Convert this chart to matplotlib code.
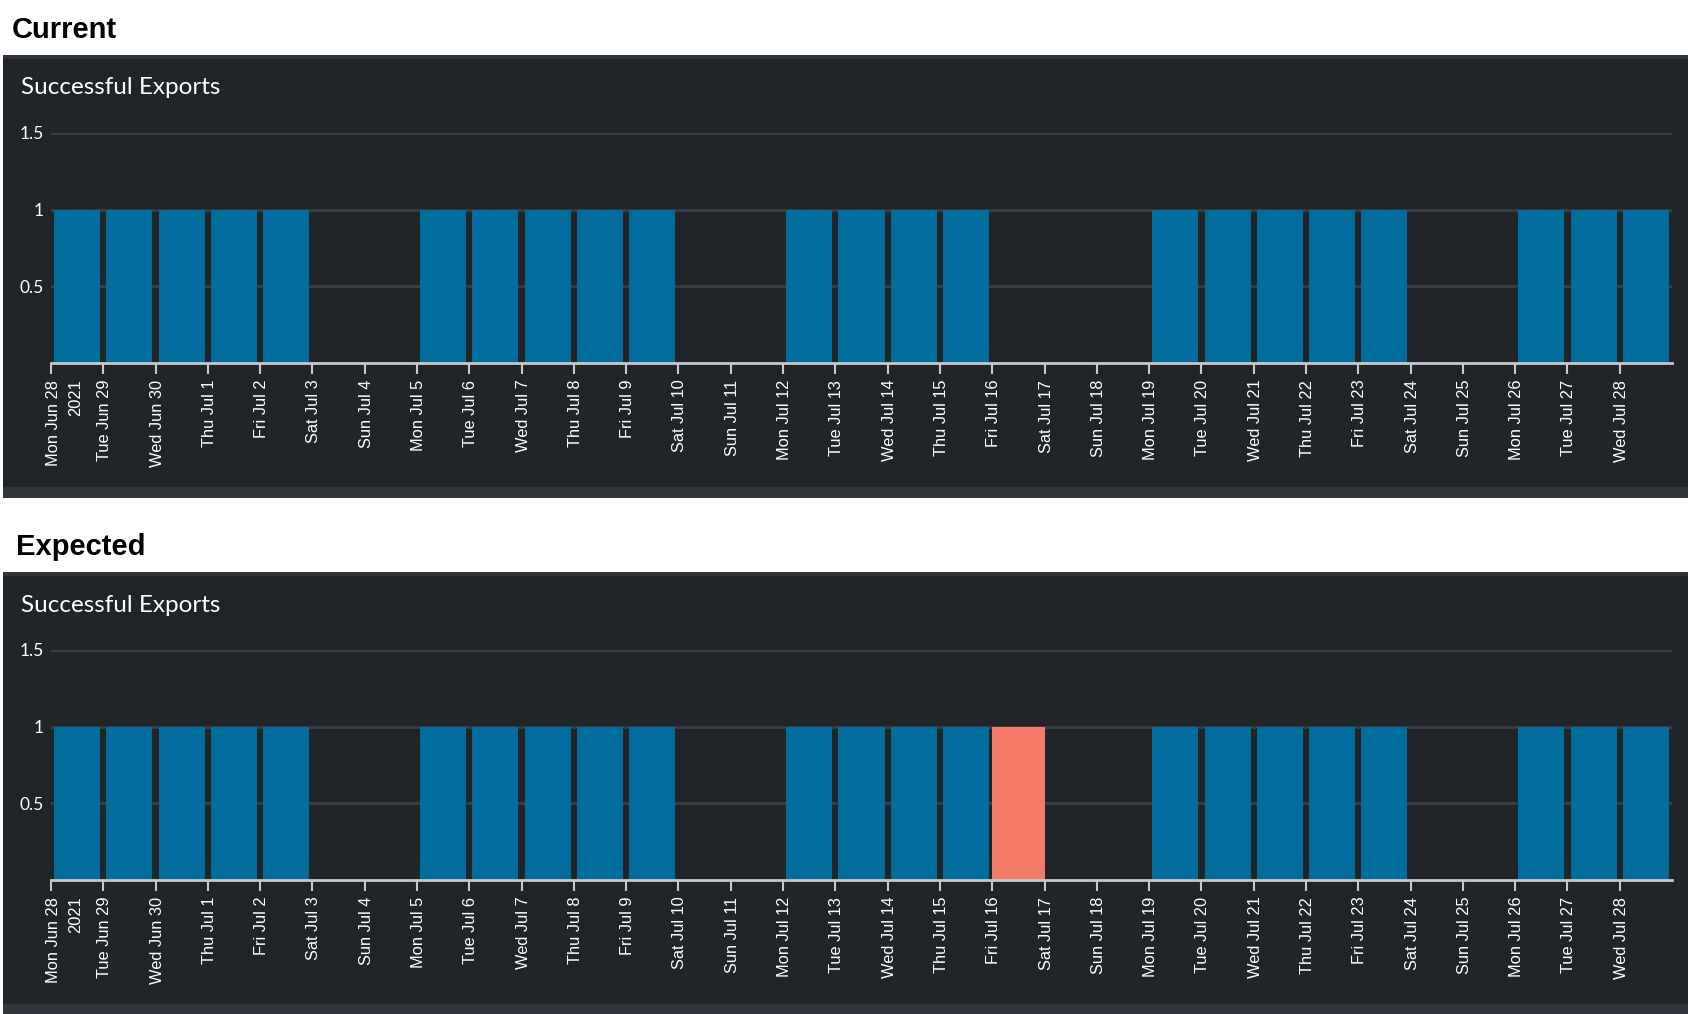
import matplotlib
matplotlib.use('Agg')
import matplotlib.pyplot as plt
import matplotlib.transforms as mtransforms
import numpy as np
import pandas as pd
from matplotlib.patches import Rectangle

# ---------------- data ----------------
dates = pd.date_range('2021-06-28', '2021-07-28', freq='D')
current_success = [1, 1, 1, 1, 1, 0, 0,
                   1, 1, 1, 1, 1, 0, 0,
                   1, 1, 1, 1, 0, 0, 0,
                   1, 1, 1, 1, 1, 0, 0,
                   1, 1, 1]
expected_success = [1, 1, 1, 1, 1, 0, 0,
                    1, 1, 1, 1, 1, 0, 0,
                    1, 1, 1, 1, 0, 0, 0,
                    1, 1, 1, 1, 1, 0, 0,
                    1, 1, 1]
expected_highlight = [0, 0, 0, 0, 0, 0, 0,
                      0, 0, 0, 0, 0, 0, 0,
                      0, 0, 0, 0, 1, 0, 0,
                      0, 0, 0, 0, 0, 0, 0,
                      0, 0, 0]
y_ticks = [0.5, 1, 1.5]
y_tick_labels = ['0.5', '1', '1.5']
section_titles = ['Current', 'Expected']
chart_title = 'Successful Exports'

tick_labels = []
for i, d in enumerate(dates):
    s = f"{d:%a} {d:%b} {d.day}"
    if i == 0:
        s += "\n2021"
    tick_labels.append(s)

# ---------------- style ----------------
W, H = 1688, 1014
BG = '#222528'
STRIP = '#30343b'
BLUE = '#006d9c'
SALMON = '#f47a6a'
GRID = '#393e44'
AXIS = '#c8c8c8'
TICK_FS = 11.8

fig = plt.figure(figsize=(W / 100, H / 100), dpi=100, facecolor='white')


def rect_fig(x0, y0, x1, y1, color):
    fig.add_artist(Rectangle((x0 / W, 1 - y1 / H), (x1 - x0) / W, (y1 - y0) / H,
                             transform=fig.transFigure, facecolor=color,
                             edgecolor='none', zorder=0))


def axes_px(x0, y0, x1, y1):
    return fig.add_axes([x0 / W, 1 - y1 / H, (x1 - x0) / W, (y1 - y0) / H])


x = np.arange(len(dates))

panels = [
    (0, current_success, None, section_titles[0], 12, 30),
    (517, expected_success, expected_highlight, section_titles[1], 16, 30),
]

for off, succ, hl, stitle, tx, ty in panels:
    # panel background
    rect_fig(3, 55 + off, W, 498 + off, BG)
    rect_fig(3, 55 + off, W, 59 + off, STRIP)
    rect_fig(3, 487 + off, W, 498 + off, STRIP)

    fig.text(tx / W, 1 - (ty + off) / H, stitle, ha='left', va='center',
             fontsize=21, fontweight='bold', family=['Liberation Sans', 'DejaVu Sans'],
             color='black')
    fig.text(21 / W, 1 - (88 + off) / H, chart_title, ha='left', va='center',
             fontsize=17.5, family=['Lato', 'DejaVu Sans'], color='white')

    ax = axes_px(51, 133 + off, 1672, 363 + off)
    ax.set_facecolor('none')
    ax.set_xlim(0, len(dates))
    ax.set_ylim(0, 1.5)
    for s in ['top', 'right', 'left']:
        ax.spines[s].set_visible(False)
    ax.spines['bottom'].set_color(AXIS)
    ax.spines['bottom'].set_linewidth(2)
    ax.spines['bottom'].set_zorder(5)

    ax.set_yticks(y_ticks)
    ax.set_yticklabels(y_tick_labels, family=['Lato', 'DejaVu Sans'], fontsize=12.5,
                       color='white')
    ax.yaxis.grid(True, color=GRID, linewidth=2)
    ax.set_axisbelow(True)
    ax.tick_params(axis='y', length=0, pad=5)

    ax.bar(x + 0.5, succ, width=0.88, color=BLUE, linewidth=0, zorder=2)
    if hl is not None:
        ax.bar(x + 0.5, hl, width=1.0, color=SALMON, linewidth=0, zorder=2)

    ax.set_xticks(x)
    ax.set_xticklabels(tick_labels, family=['Liberation Sans', 'DejaVu Sans'],
                       fontsize=TICK_FS, color='white')
    ax.tick_params(axis='x', length=8, width=1.5, color=AXIS, pad=4)
    for i, lbl in enumerate(ax.get_xticklabels()):
        lbl.set_rotation(90)
        lbl.set_rotation_mode('anchor')
        lbl.set_ha('right')
        lbl.set_multialignment('right')
        if i == 0:
            lbl.set_va('top')
            lbl.set_linespacing(1.6)
            shift = mtransforms.ScaledTranslation(-TICK_FS * 0.3 / 72, 0,
                                                  fig.dpi_scale_trans)
            lbl.set_transform(lbl.get_transform() + shift)
        else:
            lbl.set_va('center_baseline')

fig.savefig('out.png', dpi=100, facecolor='white')
